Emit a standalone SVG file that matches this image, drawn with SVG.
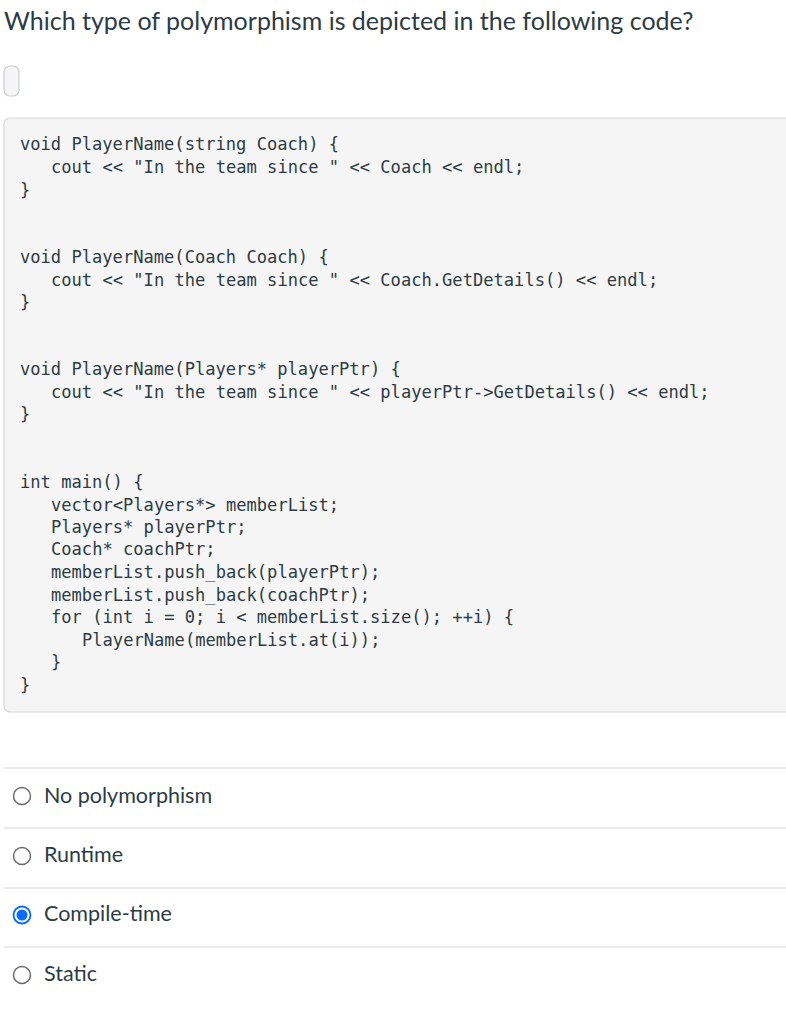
<svg xmlns="http://www.w3.org/2000/svg" width="786" height="1024" viewBox="0 0 786 1024">
<style>
.q{font-family:Lato,"Open Sans",sans-serif;font-size:25px;fill:#2d3b45}
.c{font-family:"DejaVu Sans Mono","Liberation Mono",monospace;font-size:17.1px;fill:#2d3b45}
.a{font-family:Lato,"Open Sans",sans-serif;font-size:21.5px;fill:#2d3b45}
.r{fill:#fff;stroke:#6b6b6b;stroke-width:1.5}
.sep{stroke:#e3e3e3;stroke-width:1.5}
</style>
<rect width="786" height="1024" fill="#fff"/>
<text class="q" x="4" y="30">Which type of polymorphism is depicted in the following code?</text>
<rect x="4" y="66" width="15" height="30" rx="6" fill="#f5f5f5" stroke="#c7cdd1" stroke-width="1.2"/>
<rect x="4" y="118" width="790" height="594" rx="6" fill="#f5f5f5" stroke="#d5d5d5" stroke-width="1.2"/>
<g class="c">
<text x="20" y="150">void PlayerName(string Coach) {</text>
<text x="51" y="173">cout &lt;&lt; "In the team since " &lt;&lt; Coach &lt;&lt; endl;</text>
<text x="20" y="196">}</text>
<text x="20" y="263">void PlayerName(Coach Coach) {</text>
<text x="51" y="286">cout &lt;&lt; "In the team since " &lt;&lt; Coach.GetDetails() &lt;&lt; endl;</text>
<text x="20" y="308">}</text>
<text x="20" y="375">void PlayerName(Players* playerPtr) {</text>
<text x="51" y="398">cout &lt;&lt; "In the team since " &lt;&lt; playerPtr-&gt;GetDetails() &lt;&lt; endl;</text>
<text x="20" y="420">}</text>
<text x="20" y="488">int main() {</text>
<text x="51" y="511">vector&lt;Players*&gt; memberList;</text>
<text x="51" y="533">Players* playerPtr;</text>
<text x="51" y="555">Coach* coachPtr;</text>
<text x="51" y="578">memberList.push_back(playerPtr);</text>
<text x="51" y="601">memberList.push_back(coachPtr);</text>
<text x="51" y="623">for (int i = 0; i &lt; memberList.size(); ++i) {</text>
<text x="82" y="646">PlayerName(memberList.at(i));</text>
<text x="51" y="668">}</text>
<text x="20" y="691">}</text>
</g>
<line class="sep" x1="4" y1="768" x2="786" y2="768"/>
<line class="sep" x1="4" y1="828" x2="786" y2="828"/>
<line class="sep" x1="4" y1="888" x2="786" y2="888"/>
<line class="sep" x1="4" y1="947" x2="786" y2="947"/>
<circle class="r" cx="22" cy="796" r="8.5"/>
<text class="a" x="44" y="803">No polymorphism</text>
<circle class="r" cx="22" cy="856" r="8.5"/>
<text class="a" x="44" y="862">Runtime</text>
<circle cx="22" cy="915" r="8.5" fill="#fff" stroke="#0a6cff" stroke-width="1.8"/>
<circle cx="22" cy="915" r="5.5" fill="#0a6cff"/>
<text class="a" x="44" y="921">Compile-time</text>
<circle class="r" cx="22" cy="975" r="8.5"/>
<text class="a" x="44" y="981">Static</text>
</svg>
